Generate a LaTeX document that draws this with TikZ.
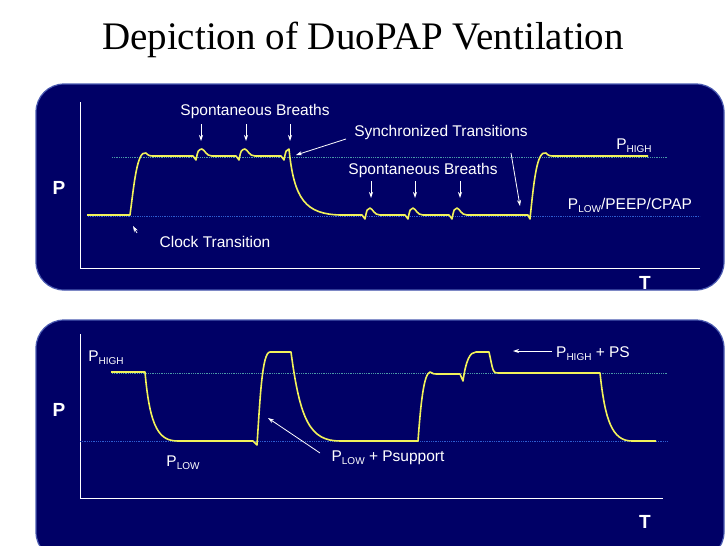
\documentclass[tikz,border=0pt]{standalone}
\usetikzlibrary{arrows.meta}
\usepackage{fontspec}
\setmainfont{Liberation Sans}
\newfontfamily\titlefont{Liberation Serif}
\newcommand\lowsub[1]{\raisebox{-0.35ex}{\fontsize{10}{10}\selectfont #1}}
\definecolor{navy}{HTML}{000066}
\definecolor{rim}{HTML}{4A5AB0}
\definecolor{wave}{HTML}{F2F25A}
\definecolor{hiline}{HTML}{4A9AA8}
\definecolor{loline}{HTML}{2E5CD0}
\begin{document}
\begin{tikzpicture}[x=1pt,y=-1pt,
  panel/.style={fill=navy,draw=rim,line width=1.2pt,rounded corners=28pt},
  ax/.style={white,line width=1pt},
  lvlhi/.style={hiline,densely dotted,line width=0.8pt},
  lvllo/.style={loline,densely dotted,line width=0.8pt},
  wv/.style={wave,line width=1.6pt,line join=round},
  lbl/.style={white,font=\fontsize{15.5}{17}\selectfont,inner sep=1pt},
  big/.style={white,font=\bfseries\fontsize{19}{20}\selectfont},
  pt/.style={white,line width=0.8pt,-{Stealth[length=6pt,width=4pt]}}]
\useasboundingbox (0,0) rectangle (728,546);
\node (title) at (363,40) {\titlefont\fontsize{39}{42}\selectfont Depiction of DuoPAP Ventilation};
% top panel
\path[panel] (36,84) rectangle (724,290);
\draw[ax] (80,102) -- (80,268) -- (700,268);
\draw[lvlhi] (112,157) -- (668,157);
\draw[lvllo] (88,216) -- (700,216);
\draw[wv] (87,215) -- (130,215) .. controls (134,185) and (137,150) .. (146,153) .. controls (149,156) .. (156,156) -- (193,156)
 -- (196,160) .. controls (198,150) .. (202,149) .. controls (205,150) and (206,156) .. (212,156) -- (236,156)
 -- (239,160) .. controls (241,150) .. (245,149) .. controls (248,150) and (249,156) .. (255,156) -- (281,156)
 -- (284,160) .. controls (286,150) .. (289,149)
 .. controls (294,200) and (306,214) .. (340,215) -- (362,215)
 -- (365,219) .. controls (367,209) .. (370,208) .. controls (373,209) and (374,215) .. (380,215) -- (405,215)
 -- (408,219) .. controls (410,209) .. (413,208) .. controls (416,209) and (417,215) .. (423,215) -- (449,215)
 -- (452,219) .. controls (454,209) .. (457,208) .. controls (460,209) and (461,215) .. (467,215) -- (528,215)
 -- (530,219) .. controls (534,180) and (537,150) .. (546,153) .. controls (549,156) .. (556,156) -- (648,156);
\node[lbl] (sb1) at (255,111) {Spontaneous Breaths};
\coordinate (a1) at (201,141); \coordinate (a2) at (246,141); \coordinate (a3) at (290,141);
\draw[pt] (201,124) -- (a1); \draw[pt] (246,124) -- (a2); \draw[pt] (290,124) -- (a3);
\node[lbl] (sync) at (441,132) {Synchronized Transitions};
\coordinate (s1) at (296,155); \coordinate (s2) at (520,206);
\draw[pt] (346,139) -- (s1);
\draw[pt] (511,153) -- (s2);
\node[lbl] (sb2) at (423,170) {Spontaneous Breaths};
\coordinate (b1) at (371,198); \coordinate (b2) at (415,198); \coordinate (b3) at (460,198);
\draw[pt] (371,181) -- (b1); \draw[pt] (415,181) -- (b2); \draw[pt] (460,181) -- (b3);
\node[lbl] (clock) at (215,242) {Clock Transition};
\coordinate (c1) at (133,226);
\draw[pt] (137,233) -- (c1);
\node[lbl] (phi1) at (634,146) {P\lowsub{HIGH}};
\node[lbl] (plo1) at (630,205) {P\lowsub{LOW}/PEEP/CPAP};
\node[big] (p1) at (59,188) {P};
\node[big] (t1) at (645,283) {T};
% bottom panel
\path[panel] (36,320) rectangle (724,560);
\draw[ax] (80,334) -- (80,498) -- (663,498);
\draw[lvlhi] (112,373) -- (668,373);
\draw[lvllo] (80,441) -- (668,441);
\draw[wv] (111,372) -- (145,372) .. controls (150,430) and (160,441) .. (178,441) -- (253,441)
 -- (257,445) .. controls (260,400) and (262,352) .. (270,352) -- (291,352)
 .. controls (300,420) and (310,441) .. (340,441) -- (418,441)
 .. controls (421,400) and (424,374) .. (430,372) .. controls (433,374) .. (440,374) -- (460,374)
 -- (463,381) .. controls (466,360) and (470,352) .. (476,352) -- (489,352)
 -- (492,366) .. controls (494,373) .. (500,373) -- (600,373)
 .. controls (605,420) and (612,441) .. (632,441) -- (656,441);
\node[lbl] (phi2) at (106,358) {P\lowsub{HIGH}};
\node[lbl] (plo2) at (183,463) {P\lowsub{LOW}};
\node[lbl] (ps) at (388,458) {P\lowsub{LOW} + Psupport};
\coordinate (e1) at (268,418); \coordinate (e2) at (513,351);
\draw[pt] (320,453) -- (e1);
\node[lbl] (phps) at (593,354) {P\lowsub{HIGH} + PS};
\draw[pt] (552,351) -- (e2);
\node[big] (p2) at (59,410) {P};
\node[big] (t2) at (645,522) {T};
\end{tikzpicture}
\end{document}
